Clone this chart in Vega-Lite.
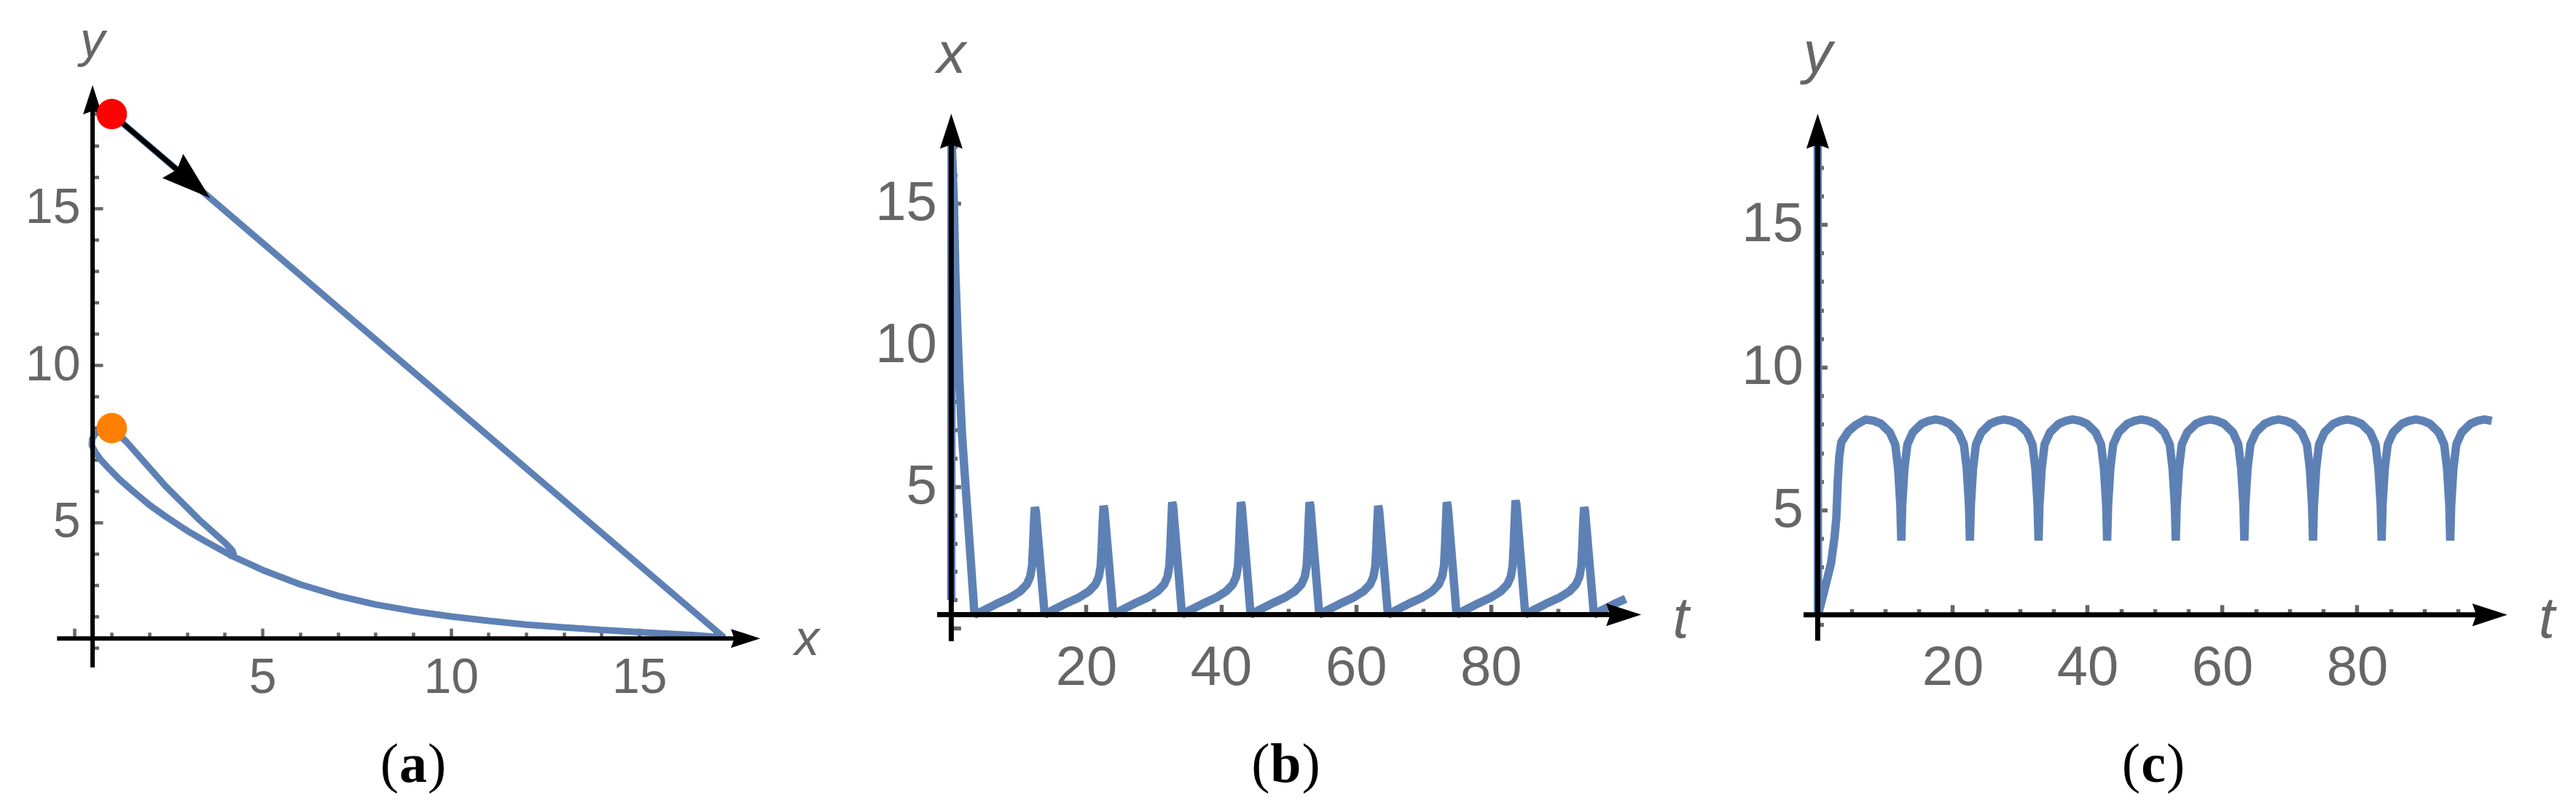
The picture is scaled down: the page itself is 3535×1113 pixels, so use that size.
{
  "$schema": "https://vega.github.io/schema/vega-lite/v6.json",
  "background": "white",
  "padding": 0,
  "spacing": 0,
  "config": {
    "view": {"stroke": null},
    "axis": {
      "grid": false,
      "domain": false,
      "labelFont": "Liberation Sans",
      "labelColor": "#666666",
      "tickColor": "#666666",
      "labelFlush": false,
      "labelOverlap": false
    }
  },
  "datasets": {
    "phase": [
      {"s": "r", "i": 1, "x": 1, "y": 18},
      {"s": "r", "i": 2, "x": 17.25, "y": 1.33},
      {"s": "r", "i": 3, "x": 16.5, "y": 1.4},
      {"s": "r", "i": 4, "x": 15, "y": 1.5},
      {"s": "r", "i": 5, "x": 14, "y": 1.57},
      {"s": "r", "i": 6, "x": 13, "y": 1.65},
      {"s": "r", "i": 7, "x": 12, "y": 1.74},
      {"s": "r", "i": 8, "x": 11, "y": 1.86},
      {"s": "r", "i": 9, "x": 10, "y": 2.0},
      {"s": "r", "i": 10, "x": 9, "y": 2.17},
      {"s": "r", "i": 11, "x": 8, "y": 2.38},
      {"s": "r", "i": 12, "x": 7, "y": 2.66},
      {"s": "r", "i": 13, "x": 6, "y": 3.02},
      {"s": "r", "i": 14, "x": 5, "y": 3.48},
      {"s": "r", "i": 15, "x": 4.2, "y": 3.92},
      {"s": "r", "i": 16, "x": 3.5, "y": 4.38},
      {"s": "r", "i": 17, "x": 3, "y": 4.73},
      {"s": "r", "i": 18, "x": 2.42, "y": 5.19},
      {"s": "r", "i": 19, "x": 2, "y": 5.55},
      {"s": "r", "i": 20, "x": 1.58, "y": 5.97},
      {"s": "r", "i": 21, "x": 1.2, "y": 6.37},
      {"s": "r", "i": 22, "x": 0.93, "y": 6.7},
      {"s": "r", "i": 23, "x": 0.7, "y": 7.0},
      {"s": "r", "i": 24, "x": 0.55, "y": 7.25},
      {"s": "r", "i": 25, "x": 0.47, "y": 7.45},
      {"s": "r", "i": 26, "x": 0.48, "y": 7.65},
      {"s": "r", "i": 27, "x": 0.56, "y": 7.82},
      {"s": "r", "i": 28, "x": 0.75, "y": 7.95},
      {"s": "r", "i": 29, "x": 1.0, "y": 8.0},
      {"s": "o", "i": 1, "x": 1, "y": 8},
      {"s": "o", "i": 2, "x": 1.39, "y": 7.56},
      {"s": "o", "i": 3, "x": 2.42, "y": 6.16},
      {"s": "o", "i": 4, "x": 3.32, "y": 5.08},
      {"s": "o", "i": 5, "x": 4.0, "y": 4.35},
      {"s": "o", "i": 6, "x": 4.2, "y": 4.1},
      {"s": "o", "i": 7, "x": 4.24, "y": 3.97},
      {"s": "o", "i": 8, "x": 4.1, "y": 3.92}
    ],
    "starts": [
      {"x": 1, "y": 18, "c": "red"},
      {"x": 1, "y": 8, "c": "orange"}
    ],
    "xt": [
      {"t": 0, "x": 1.0}, {"t": 0.04, "x": 17.25}, {"t": 0.2, "x": 16.3}, {"t": 0.4, "x": 14.9},
      {"t": 0.6, "x": 12.6}, {"t": 0.9, "x": 10.6}, {"t": 1.2, "x": 8.8}, {"t": 1.6, "x": 6.8}, {"t": 3.45, "x": 0.48},
      {"t": 4.70, "x": 0.62}, {"t": 6.70, "x": 0.86}, {"t": 8.70, "x": 1.08}, {"t": 10.20, "x": 1.30}, {"t": 11.20, "x": 1.55}, {"t": 11.70, "x": 1.82}, {"t": 11.98, "x": 2.2}, {"t": 12.13, "x": 2.9}, {"t": 12.28, "x": 3.8}, {"t": 12.40, "x": 4.27}, {"t": 12.53, "x": 4.15}, {"t": 13.85, "x": 0.48},
      {"t": 14.88, "x": 0.62}, {"t": 16.88, "x": 0.86}, {"t": 18.88, "x": 1.08}, {"t": 20.38, "x": 1.30}, {"t": 21.38, "x": 1.55}, {"t": 21.88, "x": 1.82}, {"t": 22.16, "x": 2.2}, {"t": 22.31, "x": 2.9}, {"t": 22.46, "x": 3.8}, {"t": 22.58, "x": 4.32}, {"t": 22.71, "x": 4.20}, {"t": 24.03, "x": 0.48},
      {"t": 25.06, "x": 0.62}, {"t": 27.06, "x": 0.86}, {"t": 29.06, "x": 1.08}, {"t": 30.56, "x": 1.30}, {"t": 31.56, "x": 1.55}, {"t": 32.06, "x": 1.82}, {"t": 32.34, "x": 2.2}, {"t": 32.49, "x": 2.9}, {"t": 32.64, "x": 3.8}, {"t": 32.76, "x": 4.45}, {"t": 32.89, "x": 4.33}, {"t": 34.21, "x": 0.48},
      {"t": 35.24, "x": 0.62}, {"t": 37.24, "x": 0.86}, {"t": 39.24, "x": 1.08}, {"t": 40.74, "x": 1.30}, {"t": 41.74, "x": 1.55}, {"t": 42.24, "x": 1.82}, {"t": 42.52, "x": 2.2}, {"t": 42.67, "x": 2.9}, {"t": 42.82, "x": 3.8}, {"t": 42.94, "x": 4.45}, {"t": 43.07, "x": 4.33}, {"t": 44.39, "x": 0.48},
      {"t": 45.42, "x": 0.62}, {"t": 47.42, "x": 0.86}, {"t": 49.42, "x": 1.08}, {"t": 50.92, "x": 1.30}, {"t": 51.92, "x": 1.55}, {"t": 52.42, "x": 1.82}, {"t": 52.70, "x": 2.2}, {"t": 52.85, "x": 2.9}, {"t": 53.00, "x": 3.8}, {"t": 53.12, "x": 4.45}, {"t": 53.25, "x": 4.33}, {"t": 54.57, "x": 0.48},
      {"t": 55.60, "x": 0.62}, {"t": 57.60, "x": 0.86}, {"t": 59.60, "x": 1.08}, {"t": 61.10, "x": 1.30}, {"t": 62.10, "x": 1.55}, {"t": 62.60, "x": 1.82}, {"t": 62.88, "x": 2.2}, {"t": 63.03, "x": 2.9}, {"t": 63.18, "x": 3.8}, {"t": 63.30, "x": 4.32}, {"t": 63.43, "x": 4.20}, {"t": 64.75, "x": 0.48},
      {"t": 65.78, "x": 0.62}, {"t": 67.78, "x": 0.86}, {"t": 69.78, "x": 1.08}, {"t": 71.28, "x": 1.30}, {"t": 72.28, "x": 1.55}, {"t": 72.78, "x": 1.82}, {"t": 73.06, "x": 2.2}, {"t": 73.21, "x": 2.9}, {"t": 73.36, "x": 3.8}, {"t": 73.48, "x": 4.45}, {"t": 73.61, "x": 4.33}, {"t": 74.93, "x": 0.48},
      {"t": 75.96, "x": 0.62}, {"t": 77.96, "x": 0.86}, {"t": 79.96, "x": 1.08}, {"t": 81.46, "x": 1.30}, {"t": 82.46, "x": 1.55}, {"t": 82.96, "x": 1.82}, {"t": 83.24, "x": 2.2}, {"t": 83.39, "x": 2.9}, {"t": 83.54, "x": 3.8}, {"t": 83.66, "x": 4.51}, {"t": 83.79, "x": 4.39}, {"t": 85.11, "x": 0.48},
      {"t": 86.14, "x": 0.62}, {"t": 88.14, "x": 0.86}, {"t": 90.14, "x": 1.08}, {"t": 91.64, "x": 1.30}, {"t": 92.64, "x": 1.55}, {"t": 93.14, "x": 1.82}, {"t": 93.42, "x": 2.2}, {"t": 93.57, "x": 2.9}, {"t": 93.72, "x": 3.8}, {"t": 93.84, "x": 4.27}, {"t": 93.97, "x": 4.15}, {"t": 95.29, "x": 0.48},
      {"t": 96.32, "x": 0.62}, {"t": 98.32, "x": 0.86}, {"t": 100.0, "x": 1.04}
    ],
    "yt": [
      {"t": 0, "y": 18}, {"t": 0.05, "y": 1.33}, {"t": 0.9, "y": 2.11}, {"t": 1.97, "y": 3.13}, {"t": 2.5, "y": 4.05}, {"t": 2.77, "y": 4.74},
      {"t": 2.98, "y": 6.02}, {"t": 3.2, "y": 6.87}, {"t": 3.5, "y": 7.38}, {"t": 4.57, "y": 7.76}, {"t": 5.65, "y": 7.98},
      {"t": 7.1, "y": 8.17}, {"t": 8.4, "y": 8.12}, {"t": 9.4, "y": 8.02}, {"t": 10.7, "y": 7.72}, {"t": 11.5, "y": 7.3},
      {"t": 11.93, "y": 6.45}, {"t": 12.26, "y": 5.17}, {"t": 12.40, "y": 3.93},
      {"t": 12.54, "y": 5.17}, {"t": 12.87, "y": 6.45}, {"t": 13.30, "y": 7.30}, {"t": 14.10, "y": 7.72}, {"t": 15.40, "y": 8.02}, {"t": 16.40, "y": 8.12}, {"t": 17.49, "y": 8.17}, {"t": 18.58, "y": 8.12}, {"t": 19.58, "y": 8.02}, {"t": 20.88, "y": 7.72}, {"t": 21.68, "y": 7.30}, {"t": 22.11, "y": 6.45}, {"t": 22.44, "y": 5.17}, {"t": 22.58, "y": 3.93},
      {"t": 22.72, "y": 5.17}, {"t": 23.05, "y": 6.45}, {"t": 23.48, "y": 7.30}, {"t": 24.28, "y": 7.72}, {"t": 25.58, "y": 8.02}, {"t": 26.58, "y": 8.12}, {"t": 27.67, "y": 8.17}, {"t": 28.76, "y": 8.12}, {"t": 29.76, "y": 8.02}, {"t": 31.06, "y": 7.72}, {"t": 31.86, "y": 7.30}, {"t": 32.29, "y": 6.45}, {"t": 32.62, "y": 5.17}, {"t": 32.76, "y": 3.93},
      {"t": 32.90, "y": 5.17}, {"t": 33.23, "y": 6.45}, {"t": 33.66, "y": 7.30}, {"t": 34.46, "y": 7.72}, {"t": 35.76, "y": 8.02}, {"t": 36.76, "y": 8.12}, {"t": 37.85, "y": 8.17}, {"t": 38.94, "y": 8.12}, {"t": 39.94, "y": 8.02}, {"t": 41.24, "y": 7.72}, {"t": 42.04, "y": 7.30}, {"t": 42.47, "y": 6.45}, {"t": 42.80, "y": 5.17}, {"t": 42.94, "y": 3.93},
      {"t": 43.08, "y": 5.17}, {"t": 43.41, "y": 6.45}, {"t": 43.84, "y": 7.30}, {"t": 44.64, "y": 7.72}, {"t": 45.94, "y": 8.02}, {"t": 46.94, "y": 8.12}, {"t": 48.03, "y": 8.17}, {"t": 49.12, "y": 8.12}, {"t": 50.12, "y": 8.02}, {"t": 51.42, "y": 7.72}, {"t": 52.22, "y": 7.30}, {"t": 52.65, "y": 6.45}, {"t": 52.98, "y": 5.17}, {"t": 53.12, "y": 3.93},
      {"t": 53.26, "y": 5.17}, {"t": 53.59, "y": 6.45}, {"t": 54.02, "y": 7.30}, {"t": 54.82, "y": 7.72}, {"t": 56.12, "y": 8.02}, {"t": 57.12, "y": 8.12}, {"t": 58.21, "y": 8.17}, {"t": 59.30, "y": 8.12}, {"t": 60.30, "y": 8.02}, {"t": 61.60, "y": 7.72}, {"t": 62.40, "y": 7.30}, {"t": 62.83, "y": 6.45}, {"t": 63.16, "y": 5.17}, {"t": 63.30, "y": 3.93},
      {"t": 63.44, "y": 5.17}, {"t": 63.77, "y": 6.45}, {"t": 64.20, "y": 7.30}, {"t": 65.00, "y": 7.72}, {"t": 66.30, "y": 8.02}, {"t": 67.30, "y": 8.12}, {"t": 68.39, "y": 8.17}, {"t": 69.48, "y": 8.12}, {"t": 70.48, "y": 8.02}, {"t": 71.78, "y": 7.72}, {"t": 72.58, "y": 7.30}, {"t": 73.01, "y": 6.45}, {"t": 73.34, "y": 5.17}, {"t": 73.48, "y": 3.93},
      {"t": 73.62, "y": 5.17}, {"t": 73.95, "y": 6.45}, {"t": 74.38, "y": 7.30}, {"t": 75.18, "y": 7.72}, {"t": 76.48, "y": 8.02}, {"t": 77.48, "y": 8.12}, {"t": 78.57, "y": 8.17}, {"t": 79.66, "y": 8.12}, {"t": 80.66, "y": 8.02}, {"t": 81.96, "y": 7.72}, {"t": 82.76, "y": 7.30}, {"t": 83.19, "y": 6.45}, {"t": 83.52, "y": 5.17}, {"t": 83.66, "y": 3.93},
      {"t": 83.80, "y": 5.17}, {"t": 84.13, "y": 6.45}, {"t": 84.56, "y": 7.30}, {"t": 85.36, "y": 7.72}, {"t": 86.66, "y": 8.02}, {"t": 87.66, "y": 8.12}, {"t": 88.75, "y": 8.17}, {"t": 89.84, "y": 8.12}, {"t": 90.84, "y": 8.02}, {"t": 92.14, "y": 7.72}, {"t": 92.94, "y": 7.30}, {"t": 93.37, "y": 6.45}, {"t": 93.70, "y": 5.17}, {"t": 93.84, "y": 3.93},
      {"t": 93.98, "y": 5.17}, {"t": 94.31, "y": 6.45}, {"t": 94.74, "y": 7.30}, {"t": 95.54, "y": 7.72}, {"t": 96.84, "y": 8.02}, {"t": 97.84, "y": 8.12}, {"t": 98.93, "y": 8.17}, {"t": 100.0, "y": 8.12}
    ]
  },
  "hconcat": [
    {
      "width": 1178,
      "height": 1113,
      "layer": [
        {
          "data": {"name": "phase"},
          "mark": {"type": "line", "color": "#5E81B5", "strokeWidth": 9, "strokeJoin": "bevel", "clip": false},
          "encoding": {
            "x": {
              "field": "x", "type": "quantitative",
              "scale": {"domain": [-1.9671, 20.8182], "nice": false, "zero": false},
              "axis": {
                "title": null, "offset": -236.8,
                "values": [0, 1, 2, 3, 4, 5, 6, 7, 8, 9, 10, 11, 12, 13, 14, 15, 16, 17],
                "tickWidth": 4.5,
                "tickSize": {"condition": {"test": "datum.value % 5 === 0", "value": -14}, "value": -8.5},
                "labelExpr": "datum.value % 5 === 0 && datum.value > 0 ? datum.label : ''",
                "labelFontSize": 68, "labelPadding": 34
              }
            },
            "y": {
              "field": "y", "type": "quantitative",
              "scale": {"domain": [-4.1949, 21.6288], "nice": false, "zero": false},
              "axis": {
                "title": null, "offset": -127,
                "values": [1, 2, 3, 4, 5, 6, 7, 8, 9, 10, 11, 12, 13, 14, 15, 16, 17, 18],
                "tickWidth": 4.5,
                "tickSize": {"condition": {"test": "datum.value % 5 === 0", "value": -14}, "value": -8.5},
                "labelExpr": "datum.value % 5 === 0 && datum.value > 0 ? datum.label : ''",
                "labelFontSize": 68, "labelPadding": 31
              }
            },
            "detail": {"field": "s"},
            "order": {"field": "i"}
          }
        },
        {
          "data": {"values": [{}]},
          "mark": {"type": "rule", "color": "black", "strokeWidth": 6},
          "encoding": {"x": {"datum": -0.453}, "x2": {"datum": 17.613}, "y": {"datum": 1.3}}
        },
        {
          "data": {"values": [{}]},
          "mark": {"type": "rule", "color": "black", "strokeWidth": 6},
          "encoding": {"x": {"datum": 0.49}, "y": {"datum": 0.376}, "y2": {"datum": 18.202}}
        },
        {
          "data": {"values": [{}]},
          "mark": {"type": "point", "shape": "M0,-1L0.42,0.3L0,0.15L-0.42,0.3Z", "filled": true, "color": "black", "opacity": 1, "strokeWidth": 0, "size": 3844, "angle": 90},
          "encoding": {"x": {"datum": 17.613}, "y": {"datum": 1.3}}
        },
        {
          "data": {"values": [{}]},
          "mark": {"type": "point", "shape": "M0,-1L0.42,0.3L0,0.15L-0.42,0.3Z", "filled": true, "color": "black", "opacity": 1, "strokeWidth": 0, "size": 3844, "angle": 0},
          "encoding": {"x": {"datum": 0.49}, "y": {"datum": 18.202}}
        },
        {
          "data": {"values": [{}]},
          "mark": {"type": "rule", "color": "black", "strokeWidth": 7},
          "encoding": {"x": {"datum": 1}, "y": {"datum": 18}, "x2": {"datum": 2.847}, "y2": {"datum": 16.11}}
        },
        {
          "data": {"values": [{}]},
          "mark": {"type": "point", "shape": "M0,-1L0.42,0.3L0,0.15L-0.42,0.3Z", "filled": true, "color": "black", "opacity": 1, "strokeWidth": 0, "size": 10816, "angle": 130.8},
          "encoding": {"x": {"datum": 2.847}, "y": {"datum": 16.11}}
        },
        {
          "data": {"name": "starts"},
          "mark": {"type": "point", "shape": "circle", "filled": true, "opacity": 1, "strokeWidth": 0, "size": 1740},
          "encoding": {
            "x": {"field": "x", "type": "quantitative"},
            "y": {"field": "y", "type": "quantitative"},
            "color": {"field": "c", "type": "nominal", "scale": {"domain": ["red", "orange"], "range": ["#FF0000", "#FF8000"]}, "legend": null}
          }
        },
        {
          "data": {"values": [{}]},
          "mark": {"type": "text", "text": "y", "font": "Liberation Sans", "fontStyle": "italic", "fontSize": 68, "color": "#666666", "align": "center", "baseline": "alphabetic"},
          "encoding": {"x": {"datum": 0.49}, "y": {"datum": 19.82}}
        },
        {
          "data": {"values": [{}]},
          "mark": {"type": "text", "text": "x", "font": "Liberation Sans", "fontStyle": "italic", "fontSize": 68, "color": "#666666", "align": "center", "baseline": "alphabetic"},
          "encoding": {"x": {"datum": 19.45}, "y": {"datum": 0.77}}
        },
        {
          "data": {"values": [{}]},
          "mark": {"type": "text", "text": "a", "font": "Liberation Serif", "fontWeight": "bold", "fontSize": 76, "color": "black", "align": "center", "baseline": "alphabetic"},
          "encoding": {"x": {"datum": 9.0}, "y": {"datum": -3.267}}
        },
        {
          "data": {"values": [{}]},
          "mark": {"type": "text", "text": "(", "font": "Liberation Serif", "fontSize": 76, "color": "black", "align": "right", "baseline": "alphabetic", "dx": -20},
          "encoding": {"x": {"datum": 9.0}, "y": {"datum": -3.267}}
        },
        {
          "data": {"values": [{}]},
          "mark": {"type": "text", "text": ")", "font": "Liberation Serif", "fontSize": 76, "color": "black", "align": "left", "baseline": "alphabetic", "dx": 20},
          "encoding": {"x": {"datum": 9.0}, "y": {"datum": -3.267}}
        }
      ]
    },
    {
      "width": 1178,
      "height": 1113,
      "layer": [
        {
          "data": {"name": "xt"},
          "mark": {"type": "line", "color": "#5E81B5", "strokeWidth": 11.5, "strokeJoin": "bevel", "clip": false},
          "encoding": {
            "x": {
              "field": "t", "type": "quantitative",
              "scale": {"domain": [-13.765, 113.517], "nice": false, "zero": false},
              "axis": {
                "title": null, "offset": -269.4,
                "values": [5, 10, 15, 20, 25, 30, 35, 40, 45, 50, 55, 60, 65, 70, 75, 80, 85, 90, 95],
                "tickWidth": 5.5,
                "tickSize": {"condition": {"test": "datum.value % 20 === 0", "value": -14}, "value": -8.5},
                "labelExpr": "datum.value % 20 === 0 ? datum.label : ''",
                "labelFontSize": 76, "labelPadding": 50
              }
            },
            "y": {
              "field": "x", "type": "quantitative",
              "scale": {"domain": [-6.445, 22.167], "nice": false, "zero": false},
              "axis": {
                "title": null, "offset": -127.4,
                "values": [0, 1, 2, 3, 4, 5, 6, 7, 8, 9, 10, 11, 12, 13, 14, 15, 16, 17],
                "tickWidth": 5.5,
                "tickSize": {"condition": {"test": "datum.value % 5 === 0", "value": -13}, "value": -8},
                "labelExpr": "datum.value % 5 === 0 && datum.value > 0 ? datum.label : ''",
                "labelFontSize": 76, "labelPadding": 33
              }
            }
          }
        },
        {
          "data": {"values": [{}]},
          "mark": {"type": "rule", "color": "black", "strokeWidth": 7},
          "encoding": {"x": {"datum": -2.1}, "x2": {"datum": 98.31}, "y": {"datum": 0.48}}
        },
        {
          "data": {"values": [{}]},
          "mark": {"type": "rule", "color": "black", "strokeWidth": 7},
          "encoding": {"x": {"datum": 0}, "y": {"datum": -0.455}, "y2": {"datum": 17.206}}
        },
        {
          "data": {"values": [{}]},
          "mark": {"type": "point", "shape": "M0,-1L0.42,0.3L0,0.15L-0.42,0.3Z", "filled": true, "color": "black", "opacity": 1, "strokeWidth": 0, "size": 5476, "angle": 90},
          "encoding": {"x": {"datum": 98.31}, "y": {"datum": 0.48}}
        },
        {
          "data": {"values": [{}]},
          "mark": {"type": "point", "shape": "M0,-1L0.42,0.3L0,0.15L-0.42,0.3Z", "filled": true, "color": "black", "opacity": 1, "strokeWidth": 0, "size": 5476, "angle": 0},
          "encoding": {"x": {"datum": 0}, "y": {"datum": 17.206}}
        },
        {
          "data": {"values": [{}]},
          "mark": {"type": "text", "text": "x", "font": "Liberation Sans", "fontStyle": "italic", "fontSize": 80, "color": "#666666", "align": "center", "baseline": "alphabetic"},
          "encoding": {"x": {"datum": 0}, "y": {"datum": 19.6}}
        },
        {
          "data": {"values": [{}]},
          "mark": {"type": "text", "text": "t", "font": "Liberation Sans", "fontStyle": "italic", "fontSize": 80, "color": "#666666", "align": "center", "baseline": "alphabetic"},
          "encoding": {"x": {"datum": 108.19}, "y": {"datum": -0.326}}
        },
        {
          "data": {"values": [{}]},
          "mark": {"type": "text", "text": "b", "font": "Liberation Serif", "fontWeight": "bold", "fontSize": 76, "color": "black", "align": "center", "baseline": "alphabetic"},
          "encoding": {"x": {"datum": 49.6}, "y": {"datum": -5.417}}
        },
        {
          "data": {"values": [{}]},
          "mark": {"type": "text", "text": "(", "font": "Liberation Serif", "fontSize": 76, "color": "black", "align": "right", "baseline": "alphabetic", "dx": -22},
          "encoding": {"x": {"datum": 49.6}, "y": {"datum": -5.417}}
        },
        {
          "data": {"values": [{}]},
          "mark": {"type": "text", "text": ")", "font": "Liberation Serif", "fontSize": 76, "color": "black", "align": "left", "baseline": "alphabetic", "dx": 22},
          "encoding": {"x": {"datum": 49.6}, "y": {"datum": -5.417}}
        }
      ]
    },
    {
      "width": 1179,
      "height": 1113,
      "layer": [
        {
          "data": {"name": "yt"},
          "mark": {"type": "line", "color": "#5E81B5", "strokeWidth": 11.5, "strokeJoin": "bevel", "clip": false},
          "encoding": {
            "x": {
              "field": "t", "type": "quantitative",
              "scale": {"domain": [-14.962, 112.497], "nice": false, "zero": false},
              "axis": {
                "title": null, "offset": -269.1,
                "values": [5, 10, 15, 20, 25, 30, 35, 40, 45, 50, 55, 60, 65, 70, 75, 80, 85, 90, 95],
                "tickWidth": 5.5,
                "tickSize": {"condition": {"test": "datum.value % 20 === 0", "value": -14}, "value": -8.5},
                "labelExpr": "datum.value % 20 === 0 ? datum.label : ''",
                "labelFontSize": 76, "labelPadding": 50
              }
            },
            "y": {
              "field": "y", "type": "quantitative",
              "scale": {"domain": [-5.536, 22.857], "nice": false, "zero": false},
              "axis": {
                "title": null, "offset": -138.4,
                "values": [1, 2, 3, 4, 5, 6, 7, 8, 9, 10, 11, 12, 13, 14, 15, 16, 17, 18],
                "tickWidth": 5.5,
                "tickSize": {"condition": {"test": "datum.value % 5 === 0", "value": -13}, "value": -8},
                "labelExpr": "datum.value % 5 === 0 ? datum.label : ''",
                "labelFontSize": 76, "labelPadding": 33
              }
            }
          }
        },
        {
          "data": {"values": [{}]},
          "mark": {"type": "rule", "color": "black", "strokeWidth": 7},
          "encoding": {"x": {"datum": -2.1}, "x2": {"datum": 98.31}, "y": {"datum": 1.33}}
        },
        {
          "data": {"values": [{}]},
          "mark": {"type": "rule", "color": "black", "strokeWidth": 7},
          "encoding": {"x": {"datum": 0}, "y": {"datum": 0.426}, "y2": {"datum": 17.934}}
        },
        {
          "data": {"values": [{}]},
          "mark": {"type": "point", "shape": "M0,-1L0.42,0.3L0,0.15L-0.42,0.3Z", "filled": true, "color": "black", "opacity": 1, "strokeWidth": 0, "size": 5476, "angle": 90},
          "encoding": {"x": {"datum": 98.31}, "y": {"datum": 1.33}}
        },
        {
          "data": {"values": [{}]},
          "mark": {"type": "point", "shape": "M0,-1L0.42,0.3L0,0.15L-0.42,0.3Z", "filled": true, "color": "black", "opacity": 1, "strokeWidth": 0, "size": 5476, "angle": 0},
          "encoding": {"x": {"datum": 0}, "y": {"datum": 17.934}}
        },
        {
          "data": {"values": [{}]},
          "mark": {"type": "text", "text": "y", "font": "Liberation Sans", "fontStyle": "italic", "fontSize": 80, "color": "#666666", "align": "center", "baseline": "alphabetic"},
          "encoding": {"x": {"datum": 0}, "y": {"datum": 20.33}}
        },
        {
          "data": {"values": [{}]},
          "mark": {"type": "text", "text": "t", "font": "Liberation Sans", "fontStyle": "italic", "fontSize": 80, "color": "#666666", "align": "center", "baseline": "alphabetic"},
          "encoding": {"x": {"datum": 108.17}, "y": {"datum": 0.536}}
        },
        {
          "data": {"values": [{}]},
          "mark": {"type": "text", "text": "c", "font": "Liberation Serif", "fontWeight": "bold", "fontSize": 76, "color": "black", "align": "center", "baseline": "alphabetic"},
          "encoding": {"x": {"datum": 49.8}, "y": {"datum": -4.515}}
        },
        {
          "data": {"values": [{}]},
          "mark": {"type": "text", "text": "(", "font": "Liberation Serif", "fontSize": 76, "color": "black", "align": "right", "baseline": "alphabetic", "dx": -18},
          "encoding": {"x": {"datum": 49.8}, "y": {"datum": -4.515}}
        },
        {
          "data": {"values": [{}]},
          "mark": {"type": "text", "text": ")", "font": "Liberation Serif", "fontSize": 76, "color": "black", "align": "left", "baseline": "alphabetic", "dx": 18},
          "encoding": {"x": {"datum": 49.8}, "y": {"datum": -4.515}}
        }
      ]
    }
  ]
}
